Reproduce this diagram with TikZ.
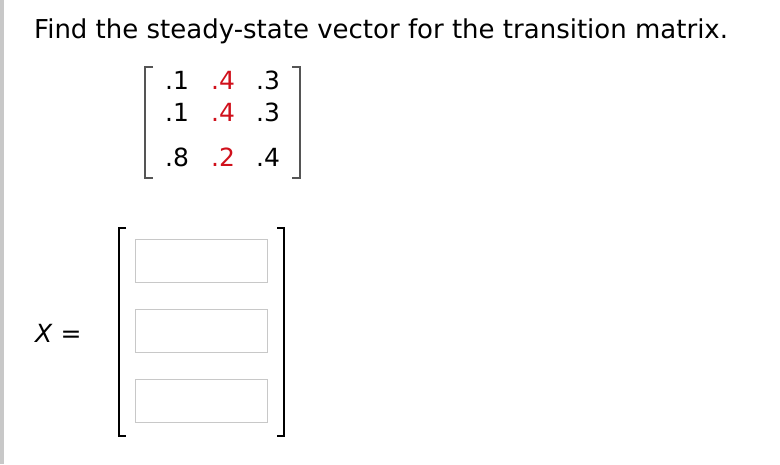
\documentclass[tikz,border=0pt]{standalone}
\usepackage{fontspec}
\setmainfont{DejaVu Sans}
\definecolor{myred}{HTML}{D0101B}
\definecolor{boxgray}{HTML}{C8C8C8}
\definecolor{brgray}{HTML}{555555}
\begin{document}
\begin{tikzpicture}[x=1pt,y=-1pt,
  ent/.style={font=\fontsize{25}{28}\selectfont, anchor=base},
  ansbox/.style={draw=boxgray, line width=1pt, minimum width=132pt, minimum height=43pt, inner sep=0pt}]
\useasboundingbox (0,0) rectangle (780,464);
\fill[boxgray] (0,0) rectangle (4,464);
\node[anchor=base west, inner sep=0pt, font=\fontsize{26}{30}\selectfont] (title) at (34,38) {Find the steady-state vector for the transition matrix.};
% matrix brackets
\draw[brgray, line width=2.5pt] (153,67) -- (145,67) -- (145,178) -- (153,178);
\draw[brgray, line width=2.5pt] (292,67) -- (300,67) -- (300,178) -- (292,178);
\node[ent] (a11) at (177,89) {.1};
\node[ent,myred] (a12) at (223,89) {.4};
\node[ent] (a13) at (268,89) {.3};
\node[ent] (a21) at (177,121) {.1};
\node[ent,myred] (a22) at (223,121) {.4};
\node[ent] (a23) at (268,121) {.3};
\node[ent] (a31) at (177,166) {.8};
\node[ent,myred] (a32) at (223,166) {.2};
\node[ent] (a33) at (268,166) {.4};
% X =
\node[anchor=base west, inner sep=0pt, font=\fontsize{25}{28}\selectfont] (X) at (35,342) {\textit{X} =};
\draw[black, line width=2pt] (126,228) -- (119,228) -- (119,436) -- (126,436);
\draw[black, line width=2pt] (277,228) -- (284,228) -- (284,436) -- (277,436);
\node[ansbox] (b1) at (201,260.5) {};
\node[ansbox] (b2) at (201,330.5) {};
\node[ansbox] (b3) at (201,400.5) {};
\end{tikzpicture}
\end{document}
